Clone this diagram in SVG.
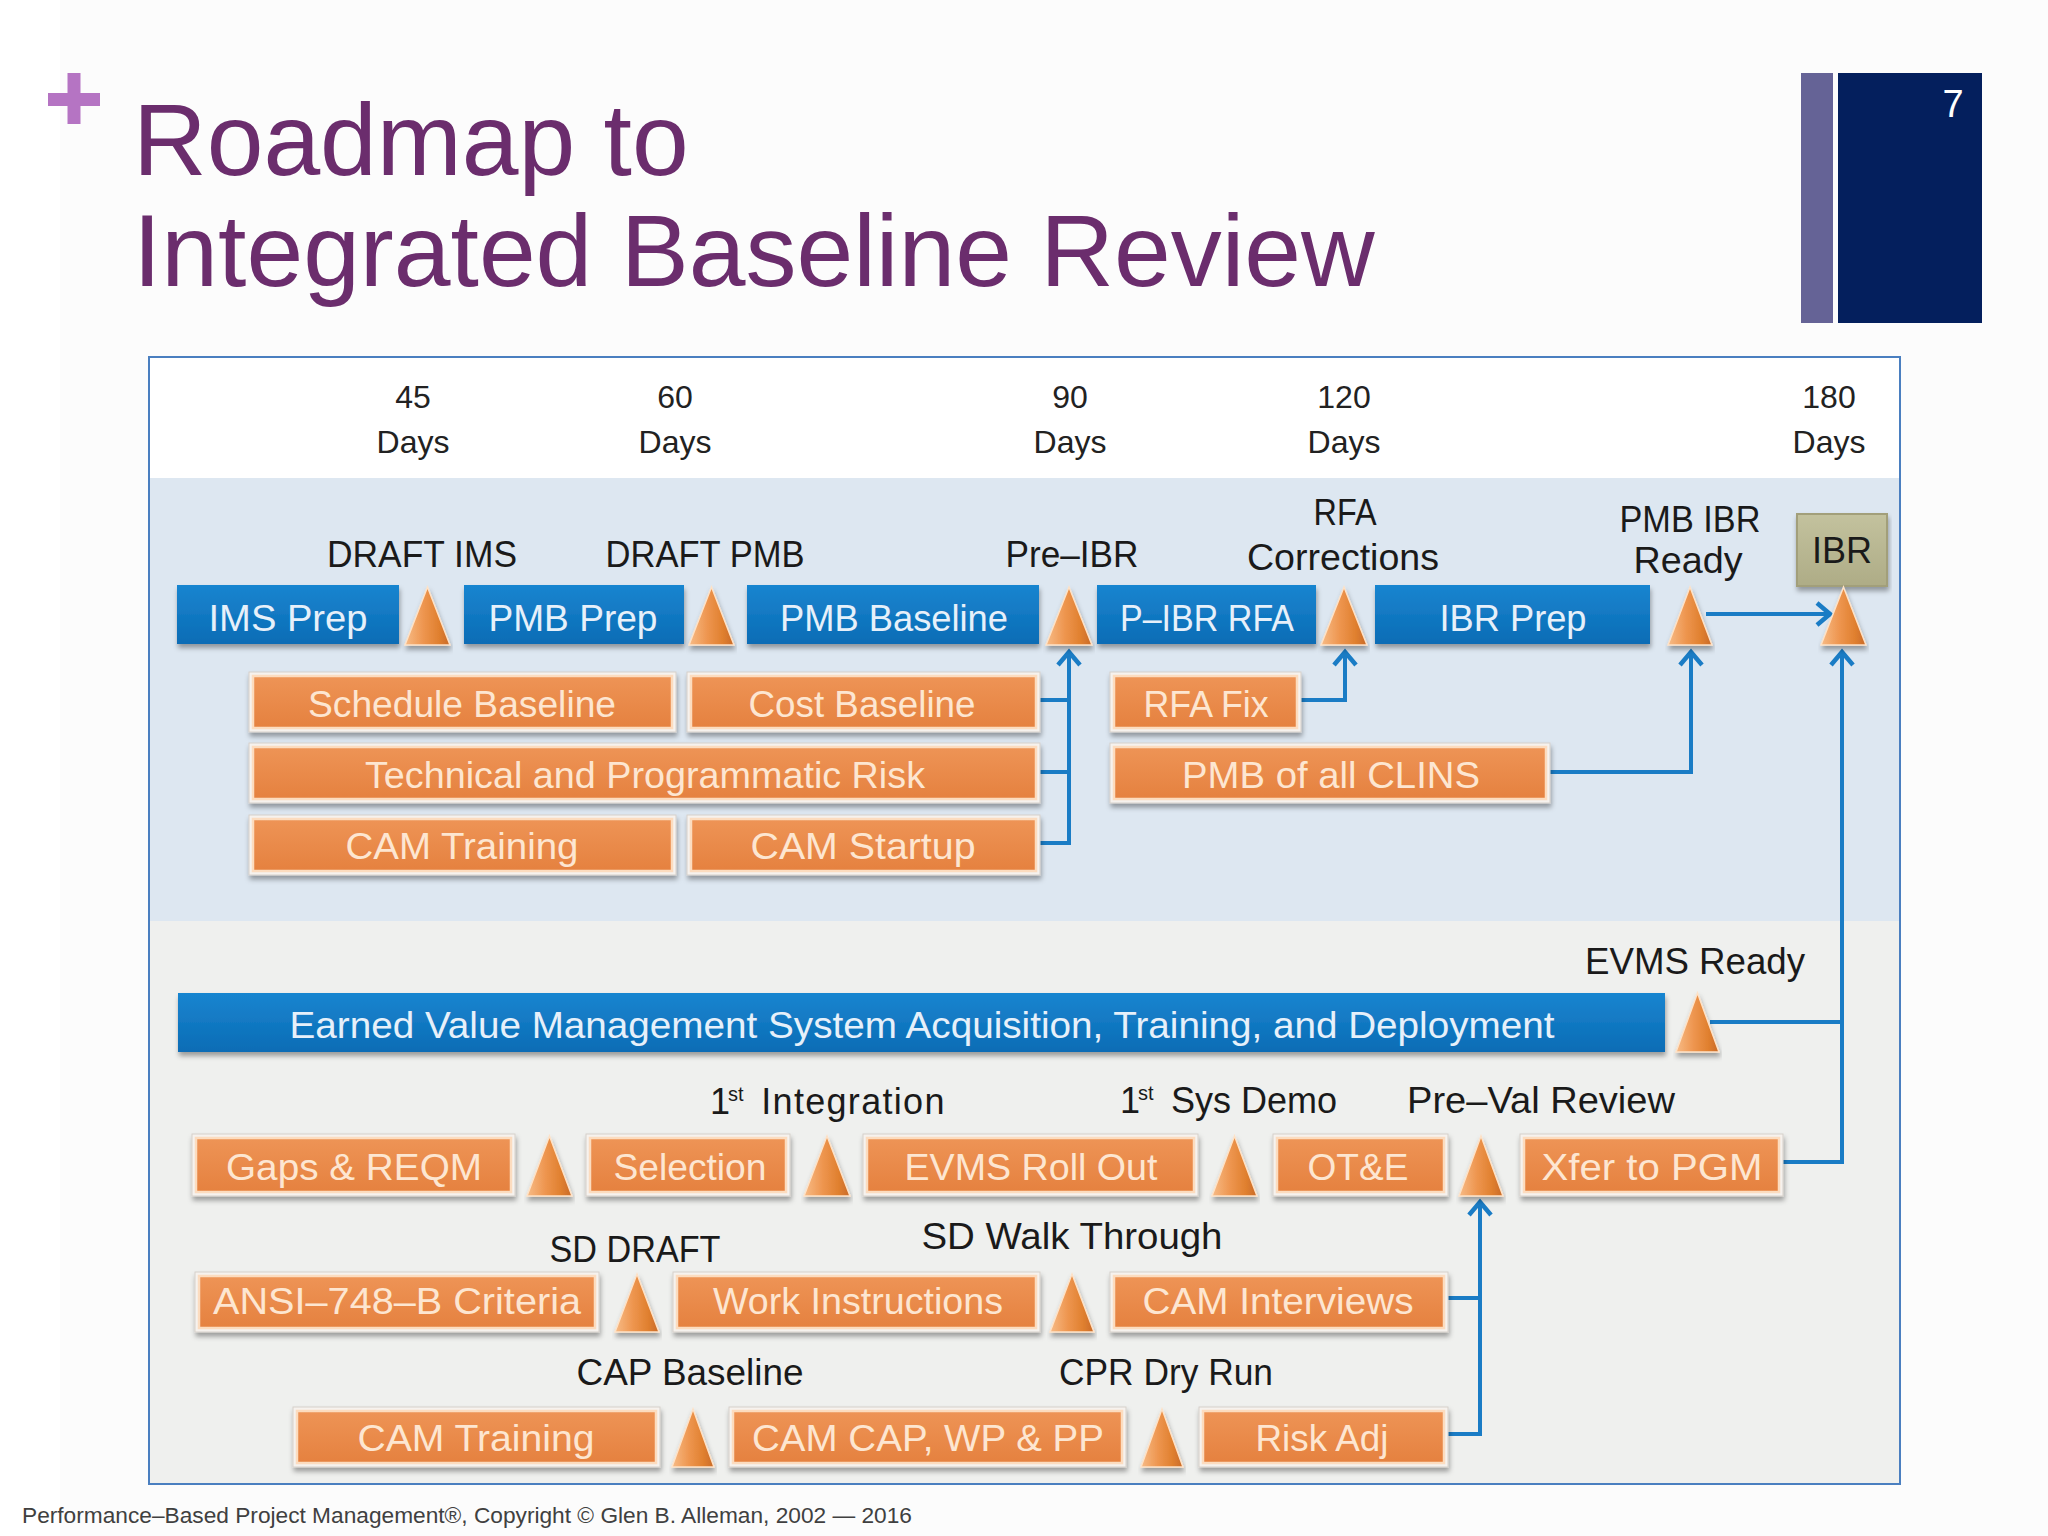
<svg xmlns="http://www.w3.org/2000/svg" width="2048" height="1536" viewBox="0 0 2048 1536">
<defs>
<linearGradient id="gBlue" x1="0" y1="0" x2="0" y2="1">
<stop offset="0" stop-color="#1985d0"/><stop offset="1" stop-color="#0a6cb5"/>
</linearGradient>
<linearGradient id="gOrange" x1="0" y1="0" x2="0" y2="1">
<stop offset="0" stop-color="#ee9456"/><stop offset="1" stop-color="#e5813f"/>
</linearGradient>
<linearGradient id="gTri" x1="0" y1="0" x2="1" y2="0">
<stop offset="0" stop-color="#f7bb86"/><stop offset="0.4" stop-color="#ee9650"/><stop offset="0.75" stop-color="#e0802f"/><stop offset="1" stop-color="#c96a2a"/>
</linearGradient>
<linearGradient id="gIbr" x1="0" y1="0" x2="0" y2="1">
<stop offset="0" stop-color="#c3c29e"/><stop offset="1" stop-color="#aeac86"/>
</linearGradient>
<filter id="sh" x="-5%" y="-20%" width="110%" height="150%">
<feDropShadow dx="1" dy="4" stdDeviation="2.5" flood-color="#000" flood-opacity="0.35"/>
</filter>
<marker id="arr" markerUnits="userSpaceOnUse" markerWidth="30" markerHeight="30" viewBox="-16 -15 20 30" refX="0" refY="0" orient="auto">
<path d="M-13 -11 L0 0 L-13 11" fill="none" stroke="#1a7cc5" stroke-width="4.5"/>
</marker>
<style>
text{font-family:"Liberation Sans",Arial,sans-serif}
.title{font-size:102px;fill:#6b2d6d}
.hdr{font-size:32px;fill:#222;text-anchor:middle}
.lbl{font-size:36px;fill:#1a1a1a;text-anchor:middle}
.lbls{font-size:36px;fill:#1a1a1a;text-anchor:start}
.bar{fill:url(#gBlue);filter:url(#sh)}
.btxt{font-size:37px;fill:#e6f0fa;text-anchor:middle}
.frm{fill:#f6f2ee;stroke:#d6d0ca;stroke-width:1;filter:url(#sh)}
.box{fill:url(#gOrange);stroke:#fcdcbf;stroke-width:2.5}
.otxt{font-size:36px;fill:#fde6d1;text-anchor:middle}
.tri{fill:url(#gTri);stroke:#fde2c8;stroke-width:1.5;filter:url(#sh)}
.con{fill:none;stroke:#1a7cc5;stroke-width:4}
.arw{marker-end:url(#arr)}
</style>
</defs>
<rect width="2048" height="1536" fill="#ffffff"/>
<rect x="60" y="0" width="1988" height="1536" fill="#fcfcfc"/>
<g id="header">
<rect x="48" y="93" width="52" height="13" fill="#b574c3"/>
<rect x="67.5" y="73" width="13" height="51" fill="#b574c3"/>
<text class="title" x="133" y="175">Roadmap to</text>
<text class="title" x="133" y="286">Integrated Baseline Review</text>
<rect x="1801" y="73" width="32" height="250" fill="#656396"/>
<rect x="1838" y="73" width="144" height="250" fill="#041f5d"/>
<text x="1953" y="117" font-size="38" fill="#ffffff" text-anchor="middle">7</text>
</g>
<g id="frame">
<rect x="149" y="357" width="1751" height="1127" fill="#ffffff" stroke="#4a7fc0" stroke-width="2"/>
<rect x="150" y="478" width="1749" height="443" fill="#dde7f1"/>
<rect x="150" y="921" width="1749" height="562" fill="#eff0ee"/>
</g>
<g id="days">
<text class="hdr" x="413" y="408">45</text><text class="hdr" x="413" y="453">Days</text>
<text class="hdr" x="675" y="408">60</text><text class="hdr" x="675" y="453">Days</text>
<text class="hdr" x="1070" y="408">90</text><text class="hdr" x="1070" y="453">Days</text>
<text class="hdr" x="1344" y="408">120</text><text class="hdr" x="1344" y="453">Days</text>
<text class="hdr" x="1829" y="408">180</text><text class="hdr" x="1829" y="453">Days</text>
</g>
<g id="connectors">
<path class="con" d="M1040 700 H1069"/>
<path class="con" d="M1040 772 H1069"/>
<path class="con arw" d="M1040 843 H1069 V652"/>
<path class="con arw" d="M1301 700 H1345 V652"/>
<path class="con arw" d="M1550 772 H1691 V652"/>
<path class="con arw" d="M1706 614 H1830"/>
<path class="con arw" d="M1783 1162 H1842 V652"/>
<path class="con" d="M1710 1022 H1842"/>
<path class="con" d="M1448 1298 H1480"/>
<path class="con arw" d="M1448 1434 H1480 V1202"/>
</g>
<g id="ims-prep"><rect class="bar" x="177" y="585" width="222" height="59"/><text class="btxt" x="288" y="631" textLength="159" lengthAdjust="spacingAndGlyphs">IMS Prep</text></g>
<g id="draft-ims"><polygon class="tri" points="427.5,587 450,645 405,645"/><text class="lbl" x="422" y="567" textLength="190" lengthAdjust="spacingAndGlyphs">DRAFT IMS</text></g>
<g id="pmb-prep"><rect class="bar" x="464" y="585" width="220" height="59"/><text class="btxt" x="573" y="631" textLength="169" lengthAdjust="spacingAndGlyphs">PMB Prep</text></g>
<g id="draft-pmb"><polygon class="tri" points="711.5,587 734,645 689,645"/><text class="lbl" x="705" y="567" textLength="199" lengthAdjust="spacingAndGlyphs">DRAFT PMB</text></g>
<g id="pmb-baseline"><rect class="bar" x="747" y="585" width="292" height="59"/><text class="btxt" x="894" y="631" textLength="228" lengthAdjust="spacingAndGlyphs">PMB Baseline</text></g>
<g id="pre-ibr"><polygon class="tri" points="1069,587 1092,645 1046,645"/><text class="lbl" x="1072" y="567" textLength="133" lengthAdjust="spacingAndGlyphs">Pre–IBR</text></g>
<g id="p-ibr-rfa"><rect class="bar" x="1097" y="585" width="219" height="59"/><text class="btxt" x="1207" y="631" textLength="174" lengthAdjust="spacingAndGlyphs">P–IBR RFA</text></g>
<g id="rfa-corrections"><polygon class="tri" points="1344,587 1367,645 1321,645"/><text class="lbl" x="1345" y="525" textLength="63" lengthAdjust="spacingAndGlyphs">RFA</text><text class="lbl" x="1343" y="570" textLength="192" lengthAdjust="spacingAndGlyphs">Corrections</text></g>
<g id="ibr-prep"><rect class="bar" x="1375" y="585" width="275" height="59"/><text class="btxt" x="1513" y="631" textLength="147" lengthAdjust="spacingAndGlyphs">IBR Prep</text></g>
<g id="pmb-ibr-ready"><polygon class="tri" points="1690,587 1712,645 1668,645"/><text class="lbl" x="1690" y="532" textLength="141" lengthAdjust="spacingAndGlyphs">PMB IBR</text><text class="lbl" x="1688" y="573" textLength="109" lengthAdjust="spacingAndGlyphs">Ready</text></g>
<g id="ibr"><rect x="1797" y="514" width="90" height="72" fill="url(#gIbr)" stroke="#a29f7a" stroke-width="2" filter="url(#sh)"/><text class="lbl" x="1842" y="563" font-size="35">IBR</text><polygon class="tri" points="1843.5,587 1866,645 1821,645"/></g>
<g id="schedule-baseline"><rect class="frm" x="249" y="672" width="427" height="60"/><rect class="box" x="253" y="676" width="419" height="52"/><text class="otxt" x="462" y="717" textLength="308" lengthAdjust="spacingAndGlyphs">Schedule Baseline</text></g>
<g id="cost-baseline"><rect class="frm" x="687" y="672" width="353" height="60"/><rect class="box" x="691" y="676" width="345" height="52"/><text class="otxt" x="862" y="717" textLength="227" lengthAdjust="spacingAndGlyphs">Cost Baseline</text></g>
<g id="tech-risk"><rect class="frm" x="249" y="743" width="791" height="60"/><rect class="box" x="253" y="747" width="783" height="52"/><text class="otxt" x="645" y="788" textLength="560" lengthAdjust="spacingAndGlyphs">Technical and Programmatic Risk</text></g>
<g id="cam-training-1"><rect class="frm" x="249" y="815" width="427" height="60"/><rect class="box" x="253" y="819" width="419" height="52"/><text class="otxt" x="462" y="859" textLength="233" lengthAdjust="spacingAndGlyphs">CAM Training</text></g>
<g id="cam-startup"><rect class="frm" x="687" y="815" width="353" height="60"/><rect class="box" x="691" y="819" width="345" height="52"/><text class="otxt" x="863" y="859" textLength="225" lengthAdjust="spacingAndGlyphs">CAM Startup</text></g>
<g id="rfa-fix"><rect class="frm" x="1110" y="672" width="191" height="60"/><rect class="box" x="1114" y="676" width="183" height="52"/><text class="otxt" x="1206" y="717" textLength="125" lengthAdjust="spacingAndGlyphs">RFA Fix</text></g>
<g id="pmb-clins"><rect class="frm" x="1110" y="743" width="440" height="60"/><rect class="box" x="1114" y="747" width="432" height="52"/><text class="otxt" x="1331" y="788" textLength="298" lengthAdjust="spacingAndGlyphs">PMB of all CLINS</text></g>
<g id="evms-bar"><rect class="bar" x="178" y="993" width="1487" height="59"/><text class="btxt" x="922" y="1038" font-size="35" textLength="1265" lengthAdjust="spacingAndGlyphs">Earned Value Management System Acquisition, Training, and Deployment</text></g>
<g id="evms-ready"><polygon class="tri" points="1697.5,993 1719,1052 1676,1052"/><text class="lbl" x="1695" y="974" textLength="220" lengthAdjust="spacingAndGlyphs">EVMS Ready</text></g>
<g id="gaps-reqm"><rect class="frm" x="192" y="1134" width="323" height="62"/><rect class="box" x="196" y="1138" width="315" height="54"/><text class="otxt" x="354" y="1180" textLength="256" lengthAdjust="spacingAndGlyphs">Gaps &amp; REQM</text></g>
<g id="ms-gaps"><polygon class="tri" points="549.5,1136 572,1196 527,1196"/></g>
<g id="selection"><rect class="frm" x="586" y="1134" width="204" height="62"/><rect class="box" x="590" y="1138" width="196" height="54"/><text class="otxt" x="690" y="1180" textLength="153" lengthAdjust="spacingAndGlyphs">Selection</text></g>
<g id="first-integration"><polygon class="tri" points="827,1136 850,1196 804,1196"/><text class="lbls" y="1114"><tspan x="710">1</tspan><tspan x="728" dy="-13" font-size="20">st</tspan><tspan x="750" dy="13" letter-spacing="1.3"> Integration</tspan></text></g>
<g id="evms-rollout"><rect class="frm" x="863" y="1134" width="335" height="62"/><rect class="box" x="867" y="1138" width="327" height="54"/><text class="otxt" x="1031" y="1180" textLength="253" lengthAdjust="spacingAndGlyphs">EVMS Roll Out</text></g>
<g id="first-sys-demo"><polygon class="tri" points="1234.5,1136 1257,1196 1212,1196"/><text class="lbls" y="1113"><tspan x="1120">1</tspan><tspan x="1138" dy="-13" font-size="20">st</tspan><tspan x="1161" dy="13"> Sys Demo</tspan></text></g>
<g id="ote"><rect class="frm" x="1273" y="1134" width="175" height="62"/><rect class="box" x="1277" y="1138" width="167" height="54"/><text class="otxt" x="1358" y="1180" textLength="101" lengthAdjust="spacingAndGlyphs">OT&amp;E</text></g>
<g id="pre-val-review"><polygon class="tri" points="1481,1136 1503,1196 1459,1196"/><text class="lbl" x="1541" y="1113" textLength="268" lengthAdjust="spacingAndGlyphs">Pre–Val Review</text></g>
<g id="xfer-pgm"><rect class="frm" x="1520" y="1134" width="263" height="62"/><rect class="box" x="1524" y="1138" width="255" height="54"/><text class="otxt" x="1652" y="1180" textLength="221" lengthAdjust="spacingAndGlyphs">Xfer to PGM</text></g>
<g id="ansi"><rect class="frm" x="195" y="1272" width="404" height="60"/><rect class="box" x="199" y="1276" width="396" height="52"/><text class="otxt" x="397" y="1314" textLength="368" lengthAdjust="spacingAndGlyphs">ANSI–748–B Criteria</text></g>
<g id="sd-draft"><polygon class="tri" points="637,1274 659,1332 615,1332"/><text class="lbl" x="635" y="1262" textLength="171" lengthAdjust="spacingAndGlyphs">SD DRAFT</text></g>
<g id="work-instructions"><rect class="frm" x="673" y="1272" width="367" height="60"/><rect class="box" x="677" y="1276" width="359" height="52"/><text class="otxt" x="858" y="1314" textLength="290" lengthAdjust="spacingAndGlyphs">Work Instructions</text></g>
<g id="sd-walk"><polygon class="tri" points="1072,1274 1094,1332 1050,1332"/><text class="lbl" x="1072" y="1249" textLength="301" lengthAdjust="spacingAndGlyphs">SD Walk Through</text></g>
<g id="cam-interviews"><rect class="frm" x="1110" y="1272" width="338" height="60"/><rect class="box" x="1114" y="1276" width="330" height="52"/><text class="otxt" x="1278" y="1314" textLength="271" lengthAdjust="spacingAndGlyphs">CAM Interviews</text></g>
<g id="cam-training-2"><rect class="frm" x="293" y="1407" width="367" height="60"/><rect class="box" x="297" y="1411" width="359" height="52"/><text class="otxt" x="476" y="1451" textLength="237" lengthAdjust="spacingAndGlyphs">CAM Training</text></g>
<g id="cap-baseline"><polygon class="tri" points="693,1409 714,1467 672,1467"/><text class="lbl" x="690" y="1385" textLength="227" lengthAdjust="spacingAndGlyphs">CAP Baseline</text></g>
<g id="cam-cap"><rect class="frm" x="729" y="1407" width="397" height="60"/><rect class="box" x="733" y="1411" width="389" height="52"/><text class="otxt" x="928" y="1451" textLength="352" lengthAdjust="spacingAndGlyphs">CAM CAP, WP &amp; PP</text></g>
<g id="cpr-dry-run"><polygon class="tri" points="1162,1409 1183,1467 1141,1467"/><text class="lbl" x="1166" y="1385" textLength="214" lengthAdjust="spacingAndGlyphs">CPR Dry Run</text></g>
<g id="risk-adj"><rect class="frm" x="1199" y="1407" width="249" height="60"/><rect class="box" x="1203" y="1411" width="241" height="52"/><text class="otxt" x="1322" y="1451" textLength="133" lengthAdjust="spacingAndGlyphs">Risk Adj</text></g>
<g id="footer"><text x="22" y="1523" font-size="22" fill="#404040" textLength="890" lengthAdjust="spacingAndGlyphs">Performance–Based Project Management®, Copyright © Glen B. Alleman, 2002 — 2016</text></g>
</svg>
